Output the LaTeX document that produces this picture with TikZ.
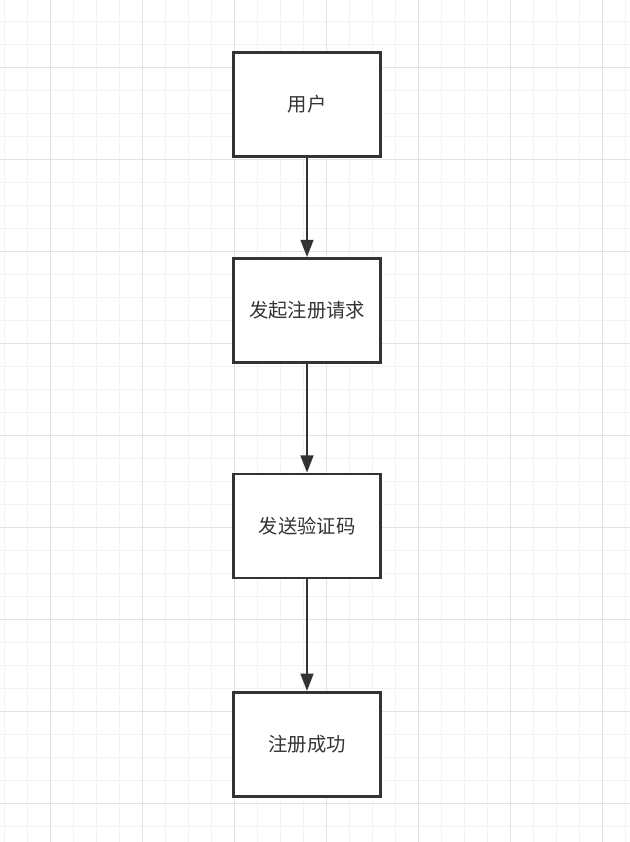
\documentclass[tikz,border=0pt]{standalone}
\usepackage{fontspec}
\setmainfont{Noto Sans CJK SC}
\usepackage{tikz}
\usetikzlibrary {arrows.meta,
                 positioning}
\definecolor{boxline}{HTML}{333333}
\definecolor{gridminor}{HTML}{F2F2F2}
\definecolor{gridmajor}{HTML}{E2E2E2}
\tikzset{
        base/.style={draw=boxline, line width=1.9pt, align=center,
                     text=boxline, font=\fontsize{14.5pt}{17pt}\selectfont},
        proc/.style={base, rectangle, minimum width=110.6pt,
                     minimum height=78pt},
        myarrow/.style={-{Triangle[length=13pt, width=9.5pt]},
                        draw=boxline, line width=1.9pt},
 }

\begin{document}
\begin{tikzpicture}[x=0.75pt, y=-0.75pt]
    \useasboundingbox (0,0) rectangle (630,842);
    % background grid
    \foreach \gx in {4.3,27.3,...,630} {\draw[gridminor, line width=0.75pt] (\gx,0) -- (\gx,842);}
    \foreach \gy in {21.3,44.3,...,842} {\draw[gridminor, line width=0.75pt] (0,\gy) -- (630,\gy);}
    \foreach \gx in {50.3,142.3,...,630} {\draw[gridmajor, line width=0.75pt] (\gx,0) -- (\gx,842);}
    \foreach \gy in {67.3,159.3,...,842} {\draw[gridmajor, line width=0.75pt] (0,\gy) -- (630,\gy);}

    \node[proc, fill=white] (a) at (307,104.5) {用户};
    \node[proc, fill=white, below=74.5pt of a] (b) {发起注册请求};
    \node[proc, fill=white, below=81.8pt of b] (c) {发送验证码};
    \node[proc, fill=white, below=83.8pt of c] (d) {注册成功};

    \draw[myarrow] (a) -- (b);
    \draw[myarrow] (b) -- (c);
    \draw[myarrow] (c) -- (d);
\end{tikzpicture}
\end{document}
